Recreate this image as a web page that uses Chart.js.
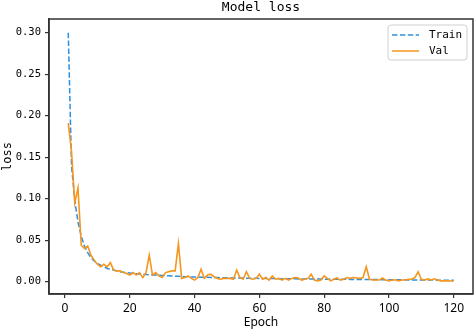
<!DOCTYPE html>
<html lang="en">

<head>
    <meta charset="UTF-8">
    <title>Model loss</title>
    <style>
        body { margin: 0; background: #fff; }
    </style>
</head>

<body>
    <canvas id="lossChart" width="474" height="330"></canvas>

<script src="https://cdn.jsdelivr.net/npm/chart.js"></script>
<script>
    // loss per epoch
    const epochs = Array.from({ length: 120 }, (_, i) => i + 1);

    const trainLoss = [
        0.300, 0.140, 0.098, 0.072, 0.055, 0.043, 0.035, 0.029, 0.025, 0.022,
        0.020, 0.018, 0.016, 0.015, 0.014, 0.013, 0.012, 0.0115, 0.011, 0.0105,
        0.010, 0.0097, 0.0094, 0.0091, 0.0088, 0.0085, 0.0082, 0.0080, 0.0078, 0.0075,
        0.0073, 0.0071, 0.0069, 0.0067, 0.0065, 0.0063, 0.0061, 0.0060, 0.0058, 0.0057,
        0.0056, 0.0055, 0.0054, 0.0053, 0.0052, 0.0051, 0.0050, 0.0049, 0.0048, 0.0047,
        0.0046, 0.0046, 0.0045, 0.0044, 0.0044, 0.0043, 0.0042, 0.0042, 0.0041, 0.0040,
        0.0040, 0.0039, 0.0039, 0.0038, 0.0038, 0.0037, 0.0037, 0.0036, 0.0036, 0.0035,
        0.0035, 0.0034, 0.0034, 0.0034, 0.0033, 0.0033, 0.0032, 0.0032, 0.0032, 0.0031,
        0.0031, 0.0030, 0.0030, 0.0030, 0.0029, 0.0029, 0.0029, 0.0028, 0.0028, 0.0028,
        0.0027, 0.0027, 0.0027, 0.0026, 0.0026, 0.0026, 0.0025, 0.0025, 0.0025, 0.0024,
        0.0024, 0.0024, 0.0023, 0.0023, 0.0023, 0.0022, 0.0022, 0.0022, 0.0021, 0.0021,
        0.0021, 0.0020, 0.0020, 0.0020, 0.0019, 0.0019, 0.0019, 0.0018, 0.0018, 0.0018
    ];

    const valLoss = [
        0.191, 0.157, 0.095, 0.113, 0.044, 0.040, 0.043, 0.032, 0.026, 0.021,
        0.018, 0.021, 0.018, 0.023, 0.014, 0.013, 0.013, 0.011, 0.010, 0.008,
        0.011, 0.008, 0.011, 0.005, 0.011, 0.032, 0.008, 0.011, 0.007, 0.005,
        0.011, 0.012, 0.013, 0.013, 0.046, 0.004, 0.005, 0.007, 0.004, 0.002,
        0.005, 0.015, 0.004, 0.008, 0.009, 0.006, 0.004, 0.003, 0.004, 0.004,
        0.004, 0.003, 0.014, 0.005, 0.003, 0.012, 0.004, 0.003, 0.004, 0.009,
        0.003, 0.005, 0.002, 0.007, 0.003, 0.004, 0.002, 0.004, 0.002, 0.004,
        0.005, 0.0045, 0.002, 0.003, 0.004, 0.009, 0.002, 0.001, 0.002, 0.007,
        0.004, 0.001, 0.003, 0.0045, 0.002, 0.003, 0.005, 0.004, 0.005, 0.0045,
        0.004, 0.005, 0.018, 0.003, 0.002, 0.002, 0.002, 0.0045, 0.002, 0.001,
        0.002, 0.002, 0.001, 0.002, 0.002, 0.003, 0.003, 0.005, 0.012, 0.003,
        0.002, 0.0035, 0.002, 0.0035, 0.002, 0.001, 0.001, 0.001, 0.0008, 0.0008
    ];

    const xTicks = [0, 20, 40, 60, 80, 100, 120];
    const yTicks = [0.00, 0.05, 0.10, 0.15, 0.20, 0.25, 0.30];

    const blue = '#2f8fdc';
    const orange = '#f5961e';
    const axisColor = '#333';
    const mono = "'DejaVu Sans Mono', monospace";
    const sans = "'Noto Sans', sans-serif";

    const toPoints = (values) => values.map((v, i) => ({ x: epochs[i], y: v }));

    // frame on all four sides, title and the legend box
    const decorations = {
        id: 'decorations',
        afterDatasetsDraw(chart) {
            const { ctx, chartArea: a } = chart;
            ctx.save();
            ctx.strokeStyle = axisColor;
            ctx.lineWidth = 1.5;
            ctx.strokeRect(a.left, a.top, a.right - a.left, a.bottom - a.top);

            ctx.fillStyle = '#000';
            ctx.font = `13px ${mono}`;
            ctx.textAlign = 'center';
            ctx.textBaseline = 'middle';
            ctx.fillText('Model loss', (a.left + a.right) / 2, 8);

            // legend
            const bx = 388, by = 25, bw = 79, bh = 35, r = 3;
            ctx.beginPath();
            ctx.roundRect(bx, by, bw, bh, r);
            ctx.fillStyle = 'rgba(255,255,255,0.85)';
            ctx.fill();
            ctx.strokeStyle = '#d0d0d0';
            ctx.lineWidth = 1;
            ctx.stroke();

            const items = chart.data.datasets;
            const rows = [35, 51];
            items.forEach((ds, i) => {
                ctx.beginPath();
                ctx.strokeStyle = ds.borderColor;
                ctx.lineWidth = 1.5;
                ctx.setLineDash(ds.borderDash || []);
                ctx.moveTo(392, rows[i]);
                ctx.lineTo(419, rows[i]);
                ctx.stroke();
                ctx.setLineDash([]);
                ctx.fillStyle = '#000';
                ctx.font = `11px ${mono}`;
                ctx.textAlign = 'left';
                ctx.fillText(ds.label, 429, rows[i] + 0.5);
            });
            ctx.restore();
        }
    };

    new Chart(document.getElementById('lossChart'), {
        type: 'line',
        data: {
            datasets: [{
                label: 'Train',
                data: toPoints(trainLoss),
                borderColor: blue,
                borderWidth: 1.5,
                borderDash: [5.5, 2.4],
                pointRadius: 0,
                tension: 0,
                order: 1
            }, {
                label: 'Val',
                data: toPoints(valLoss),
                borderColor: orange,
                borderWidth: 1.6,
                pointRadius: 0,
                tension: 0,
                order: 0
            }]
        },
        options: {
            responsive: false,
            animation: false,
            layout: { padding: { top: 19, right: 1, left: 0, bottom: 0 } },
            plugins: {
                legend: { display: false },
                tooltip: { enabled: false }
            },
            scales: {
                x: {
                    type: 'linear',
                    min: -4.95,
                    max: 125.95,
                    afterBuildTicks: (axis) => { axis.ticks = xTicks.map(v => ({ value: v })); },
                    afterFit: (axis) => { axis.height = 36; },
                    grid: { drawOnChartArea: false, tickLength: 4, tickColor: axisColor, lineWidth: 1.2 },
                    border: { color: axisColor, width: 1.5 },
                    ticks: {
                        padding: 3,
                        color: '#000',
                        font: { family: sans, size: 12 },
                        maxRotation: 0
                    },
                    title: {
                        display: true,
                        text: 'Epoch',
                        color: '#000',
                        font: { family: sans, size: 12 },
                        padding: { top: 0, bottom: 0 }
                    }
                },
                y: {
                    type: 'linear',
                    min: -0.0148,
                    max: 0.3165,
                    afterBuildTicks: (axis) => { axis.ticks = yTicks.map(v => ({ value: v })); },
                    afterFit: (axis) => { axis.width = 49; },
                    grid: { drawOnChartArea: false, tickLength: 4, tickColor: axisColor, lineWidth: 1.2 },
                    border: { color: axisColor, width: 1.5 },
                    ticks: {
                        padding: 4,
                        color: '#000',
                        font: { family: mono, size: 10.5 },
                        callback: (v) => v.toFixed(2)
                    },
                    title: {
                        display: true,
                        text: 'loss',
                        color: '#000',
                        font: { family: mono, size: 12 },
                        padding: { top: 1, bottom: 0 }
                    }
                }
            }
        },
        plugins: [decorations]
    });
</script>

</body>

</html>
